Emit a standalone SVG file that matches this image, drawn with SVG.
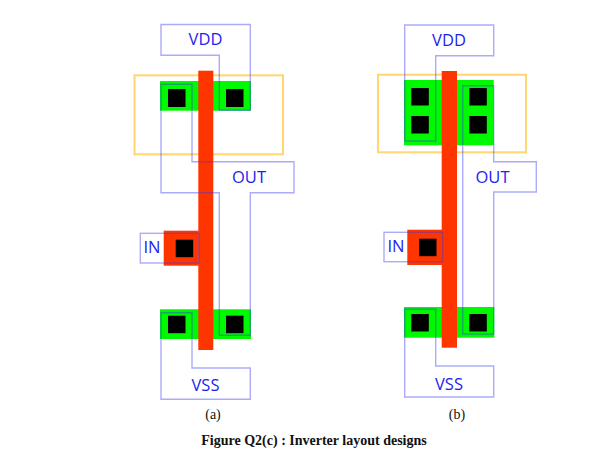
<svg xmlns="http://www.w3.org/2000/svg" width="605" height="454" viewBox="0 0 605 454">
<style>
.well{fill:none;stroke:#ffd670;stroke-width:2}
.diff{fill:#00f800}
.poly{fill:#ff3500}
.cut{fill:#000}
.metal{fill:none;stroke:#3838f0;stroke-opacity:.42;stroke-width:1.4}
.lbl{font-family:"Open Sans","Noto Sans",sans-serif;font-size:16.5px;fill:#2222f0;text-anchor:middle}
.cap{font-family:"Liberation Serif",serif;fill:#111;text-anchor:middle;font-size:14px}
</style>
<rect width="605" height="454" fill="#fff"/>
<g id="layout-a">
<rect class="well" x="134.5" y="75.3" width="148.5" height="79"/>
<rect class="diff" x="160" y="81" width="91" height="29.7"/>
<rect class="diff" x="160" y="309.3" width="91" height="29.7"/>
<rect class="poly" x="198.3" y="70.7" width="15" height="279.3"/>
<rect class="poly" x="163.7" y="230.7" width="35" height="35"/>
<rect class="cut" x="168" y="89" width="17.5" height="18"/>
<rect class="cut" x="226" y="89" width="17.5" height="18"/>
<rect class="cut" x="175.7" y="239.7" width="17.5" height="17.5"/>
<rect class="cut" x="168" y="315.7" width="17.5" height="17.5"/>
<rect class="cut" x="226" y="315.7" width="17.5" height="17.5"/>
<path id="a-vdd" class="metal" d="M161 24.5H250.3V110.3H219.3V55.3H161Z"/>
<path id="a-out" class="metal" d="M161 84.3H192V161.7H294V192.7H250.3V335.3H219.3V192.7H161Z"/>
<rect id="a-in" class="metal" x="140.3" y="233.3" width="58.7" height="29.7"/>
<path id="a-vss" class="metal" d="M161 312.7H192V368H250.3V399.3H161Z"/>
<text class="lbl" x="205.5" y="45">VDD</text>
<text class="lbl" x="249" y="182.5">OUT</text>
<text class="lbl" x="152" y="253">IN</text>
<text class="lbl" x="205.5" y="391">VSS</text>
</g>
<g id="layout-b">
<rect class="well" x="378" y="74.7" width="148" height="77.6"/>
<rect class="diff" x="404" y="80" width="89.7" height="65.3"/>
<rect class="diff" x="404" y="307" width="90.3" height="30.7"/>
<rect class="poly" x="441.7" y="71" width="15.3" height="276.7"/>
<rect class="poly" x="407.3" y="229.7" width="34.7" height="35.3"/>
<rect class="cut" x="411.3" y="88" width="17.5" height="17.5"/>
<rect class="cut" x="411.3" y="116" width="17.5" height="17.5"/>
<rect class="cut" x="469.3" y="88" width="17.5" height="17.5"/>
<rect class="cut" x="469.3" y="116" width="17.5" height="17.5"/>
<rect class="cut" x="419" y="238.7" width="17.5" height="17.5"/>
<rect class="cut" x="411.3" y="314" width="17.5" height="17.5"/>
<rect class="cut" x="469.3" y="314" width="17.5" height="17.5"/>
<path id="b-vdd" class="metal" d="M404.7 25H493.7V55.7H435.7V141H404.7Z"/>
<path id="b-out" class="metal" d="M462.7 85.7H493.7V161.7H536.3V192H493.7V334H462.7Z"/>
<rect id="b-in" class="metal" x="384" y="232.3" width="58.7" height="29.4"/>
<path id="b-vss" class="metal" d="M404.7 309.3H435.7V366H493.7V397H404.7Z"/>
<text class="lbl" x="449" y="45.5">VDD</text>
<text class="lbl" x="492.5" y="182.5">OUT</text>
<text class="lbl" x="396" y="252">IN</text>
<text class="lbl" x="449" y="389.5">VSS</text>
</g>
<g id="connectors"></g>
<text class="cap" x="213" y="419">(a)</text>
<text class="cap" x="457" y="419">(b)</text>
<text class="cap" x="314" y="444.5" font-weight="bold">Figure Q2(c) : Inverter layout designs</text>
</svg>
